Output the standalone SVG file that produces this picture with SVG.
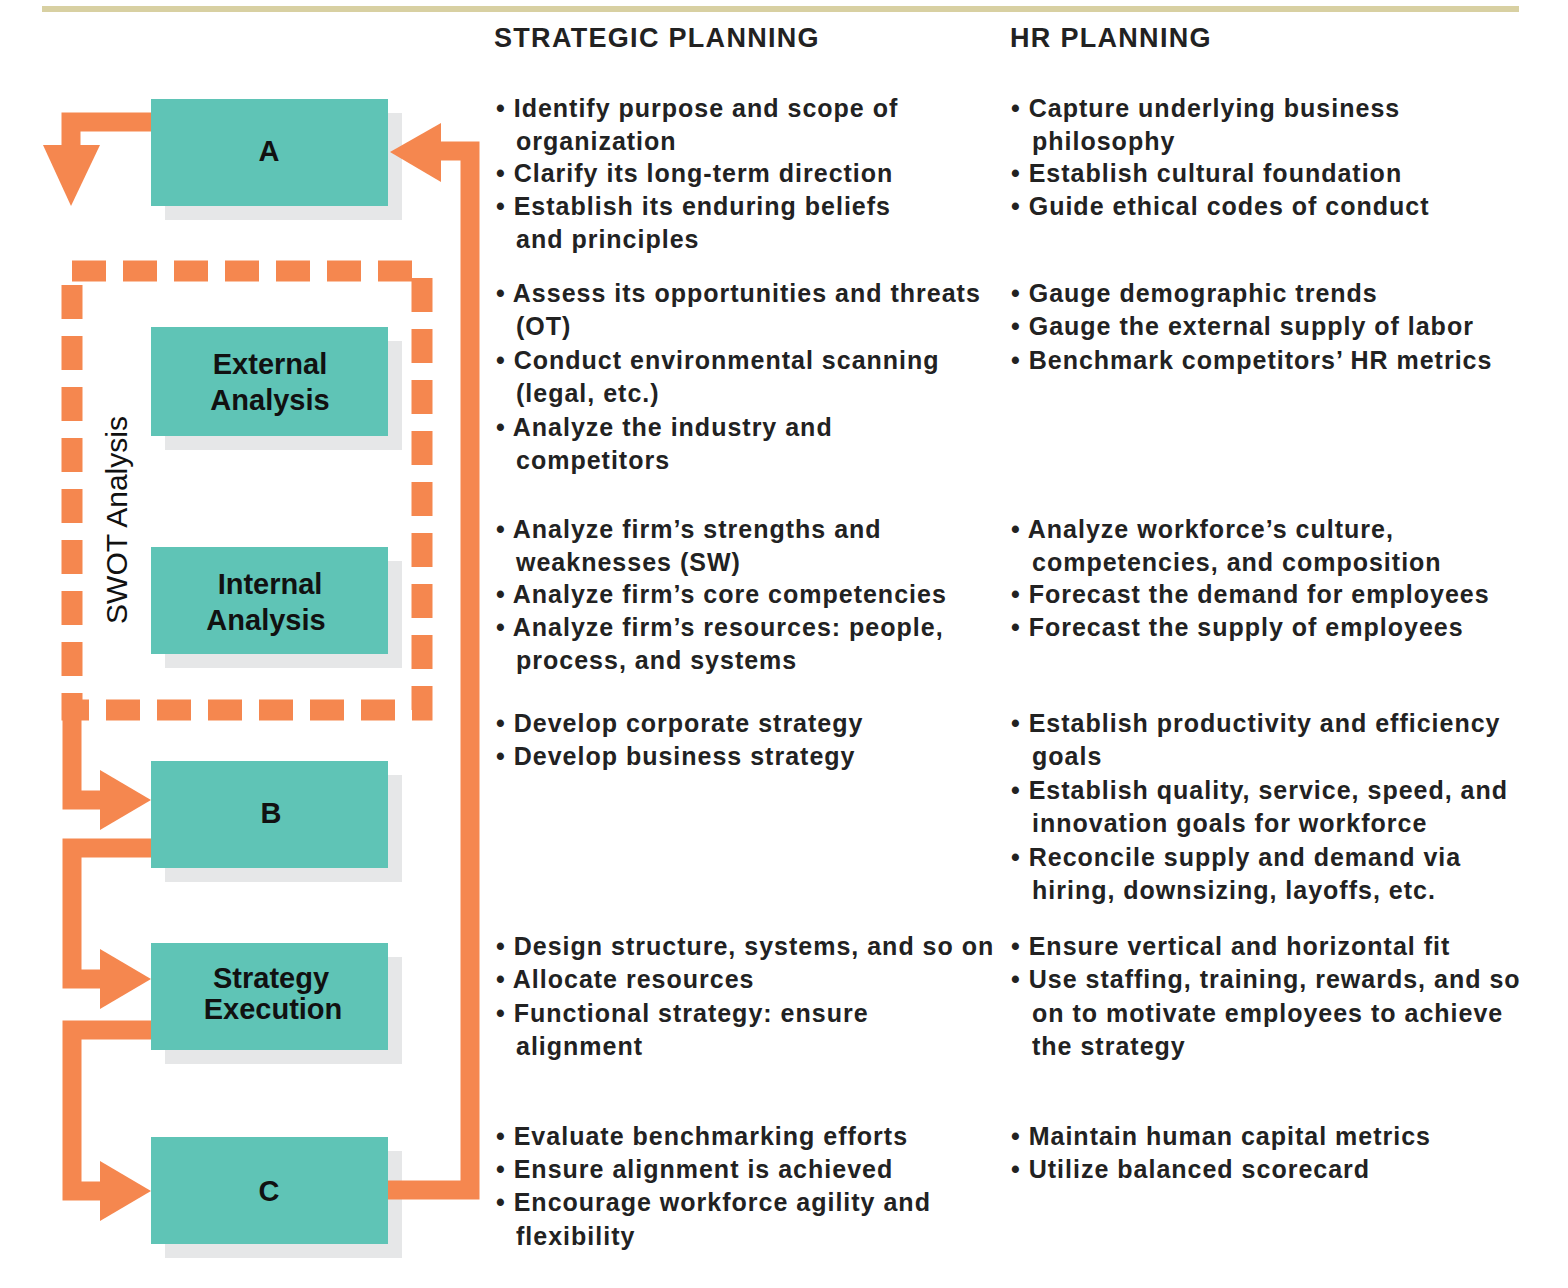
<svg xmlns="http://www.w3.org/2000/svg" width="1568" height="1288" viewBox="0 0 1568 1288">
<style>
.box{fill:#5fc4b6}
.sh{fill:#e6e7e8}
.lbl{font-family:"Liberation Sans",Arial,sans-serif;font-weight:bold;font-size:29px;fill:#111;text-anchor:middle}
.t{font-family:"Liberation Sans",Arial,sans-serif;font-weight:bold;font-size:25px;fill:#222;letter-spacing:1px}
.h{font-family:"Liberation Sans",Arial,sans-serif;font-weight:bold;font-size:27px;fill:#222;letter-spacing:1.3px}
.c{fill:none;stroke:#f5874f;stroke-width:19}
.ah{fill:#f5874f}
</style>
<rect x="42" y="6" width="1477" height="6" fill="#d8d0a2"/>
<text transform="translate(127,520) rotate(-90)" text-anchor="middle" font-family="Liberation Sans,Arial,sans-serif" font-size="30" fill="#111">SWOT Analysis</text>
<g id="A"><rect class="sh" x="165" y="113" width="237" height="107"/><rect class="box" x="151" y="99" width="237" height="107"/><text class="lbl" x="269" y="161">A</text></g>
<g id="ext"><rect class="sh" x="165" y="341" width="237" height="109"/><rect class="box" x="151" y="327" width="237" height="109"/><text class="lbl" x="270" y="374">External</text><text class="lbl" x="270" y="410">Analysis</text></g>
<g id="int"><rect class="sh" x="165" y="561" width="237" height="107"/><rect class="box" x="151" y="547" width="237" height="107"/><text class="lbl" x="270" y="594">Internal</text><text class="lbl" x="266" y="630">Analysis</text></g>
<g id="B"><rect class="sh" x="165" y="775" width="237" height="107"/><rect class="box" x="151" y="761" width="237" height="107"/><text class="lbl" x="271" y="823">B</text></g>
<g id="SE"><rect class="sh" x="165" y="957" width="237" height="107"/><rect class="box" x="151" y="943" width="237" height="107"/><text class="lbl" x="271" y="988">Strategy</text><text class="lbl" x="273" y="1019">Execution</text></g>
<g id="C"><rect class="sh" x="165" y="1151" width="237" height="107"/><rect class="box" x="151" y="1137" width="237" height="107"/><text class="lbl" x="269" y="1201">C</text></g>
<g id="connectors">
<rect x="72" y="271" width="350" height="439" fill="none" stroke="#f5874f" stroke-width="21" stroke-dasharray="34,17"/>
<polyline class="c" points="151,122 71,122 71,150"/>
<polygon class="ah" points="43,145 100,145 71,206"/>
<polyline class="c" points="388,1190 470,1190 470,151 438,151"/>
<polygon class="ah" points="390,152 441,123 441,182"/>
<polyline class="c" points="72,710 72,800 105,800"/>
<polygon class="ah" points="151,800 100,770 100,830"/>
<polyline class="c" points="151,848 72,848 72,979 105,979"/>
<polygon class="ah" points="151,979 100,949 100,1009"/>
<polyline class="c" points="151,1030 72,1030 72,1191 105,1191"/>
<polygon class="ah" points="151,1191 100,1161 100,1221"/>
</g>
<g id="text">
<text class="h" x="494" y="47">STRATEGIC PLANNING</text>
<text class="h" x="1010" y="47">HR PLANNING</text>
<g class="t">
<text x="496" y="117">• Identify purpose and scope of</text>
<text x="516" y="150">organization</text>
<text x="496" y="182">• Clarify its long-term direction</text>
<text x="496" y="215">• Establish its enduring beliefs</text>
<text x="516" y="248">and principles</text>
<text x="496" y="302">• Assess its opportunities and threats</text>
<text x="516" y="335">(OT)</text>
<text x="496" y="369">• Conduct environmental scanning</text>
<text x="516" y="402">(legal, etc.)</text>
<text x="496" y="436">• Analyze the industry and</text>
<text x="516" y="469">competitors</text>
<text x="496" y="538">• Analyze firm’s strengths and</text>
<text x="516" y="571">weaknesses (SW)</text>
<text x="496" y="603">• Analyze firm’s core competencies</text>
<text x="496" y="636">• Analyze firm’s resources: people,</text>
<text x="516" y="669">process, and systems</text>
<text x="496" y="732">• Develop corporate strategy</text>
<text x="496" y="765">• Develop business strategy</text>
<text x="496" y="955">• Design structure, systems, and so on</text>
<text x="496" y="988">• Allocate resources</text>
<text x="496" y="1022">• Functional strategy: ensure</text>
<text x="516" y="1055">alignment</text>
<text x="496" y="1145">• Evaluate benchmarking efforts</text>
<text x="496" y="1178">• Ensure alignment is achieved</text>
<text x="496" y="1211">• Encourage workforce agility and</text>
<text x="516" y="1245">flexibility</text>
<text x="1011" y="117">• Capture underlying business</text>
<text x="1032" y="150">philosophy</text>
<text x="1011" y="182">• Establish cultural foundation</text>
<text x="1011" y="215">• Guide ethical codes of conduct</text>
<text x="1011" y="302">• Gauge demographic trends</text>
<text x="1011" y="335">• Gauge the external supply of labor</text>
<text x="1011" y="369">• Benchmark competitors’ HR metrics</text>
<text x="1011" y="538">• Analyze workforce’s culture,</text>
<text x="1032" y="571">competencies, and composition</text>
<text x="1011" y="603">• Forecast the demand for employees</text>
<text x="1011" y="636">• Forecast the supply of employees</text>
<text x="1011" y="732">• Establish productivity and efficiency</text>
<text x="1032" y="765">goals</text>
<text x="1011" y="799">• Establish quality, service, speed, and</text>
<text x="1032" y="832">innovation goals for workforce</text>
<text x="1011" y="866">• Reconcile supply and demand via</text>
<text x="1032" y="899">hiring, downsizing, layoffs, etc.</text>
<text x="1011" y="955">• Ensure vertical and horizontal fit</text>
<text x="1011" y="988">• Use staffing, training, rewards, and so</text>
<text x="1032" y="1022">on to motivate employees to achieve</text>
<text x="1032" y="1055">the strategy</text>
<text x="1011" y="1145">• Maintain human capital metrics</text>
<text x="1011" y="1178">• Utilize balanced scorecard</text>
</g>
</g>
</svg>
